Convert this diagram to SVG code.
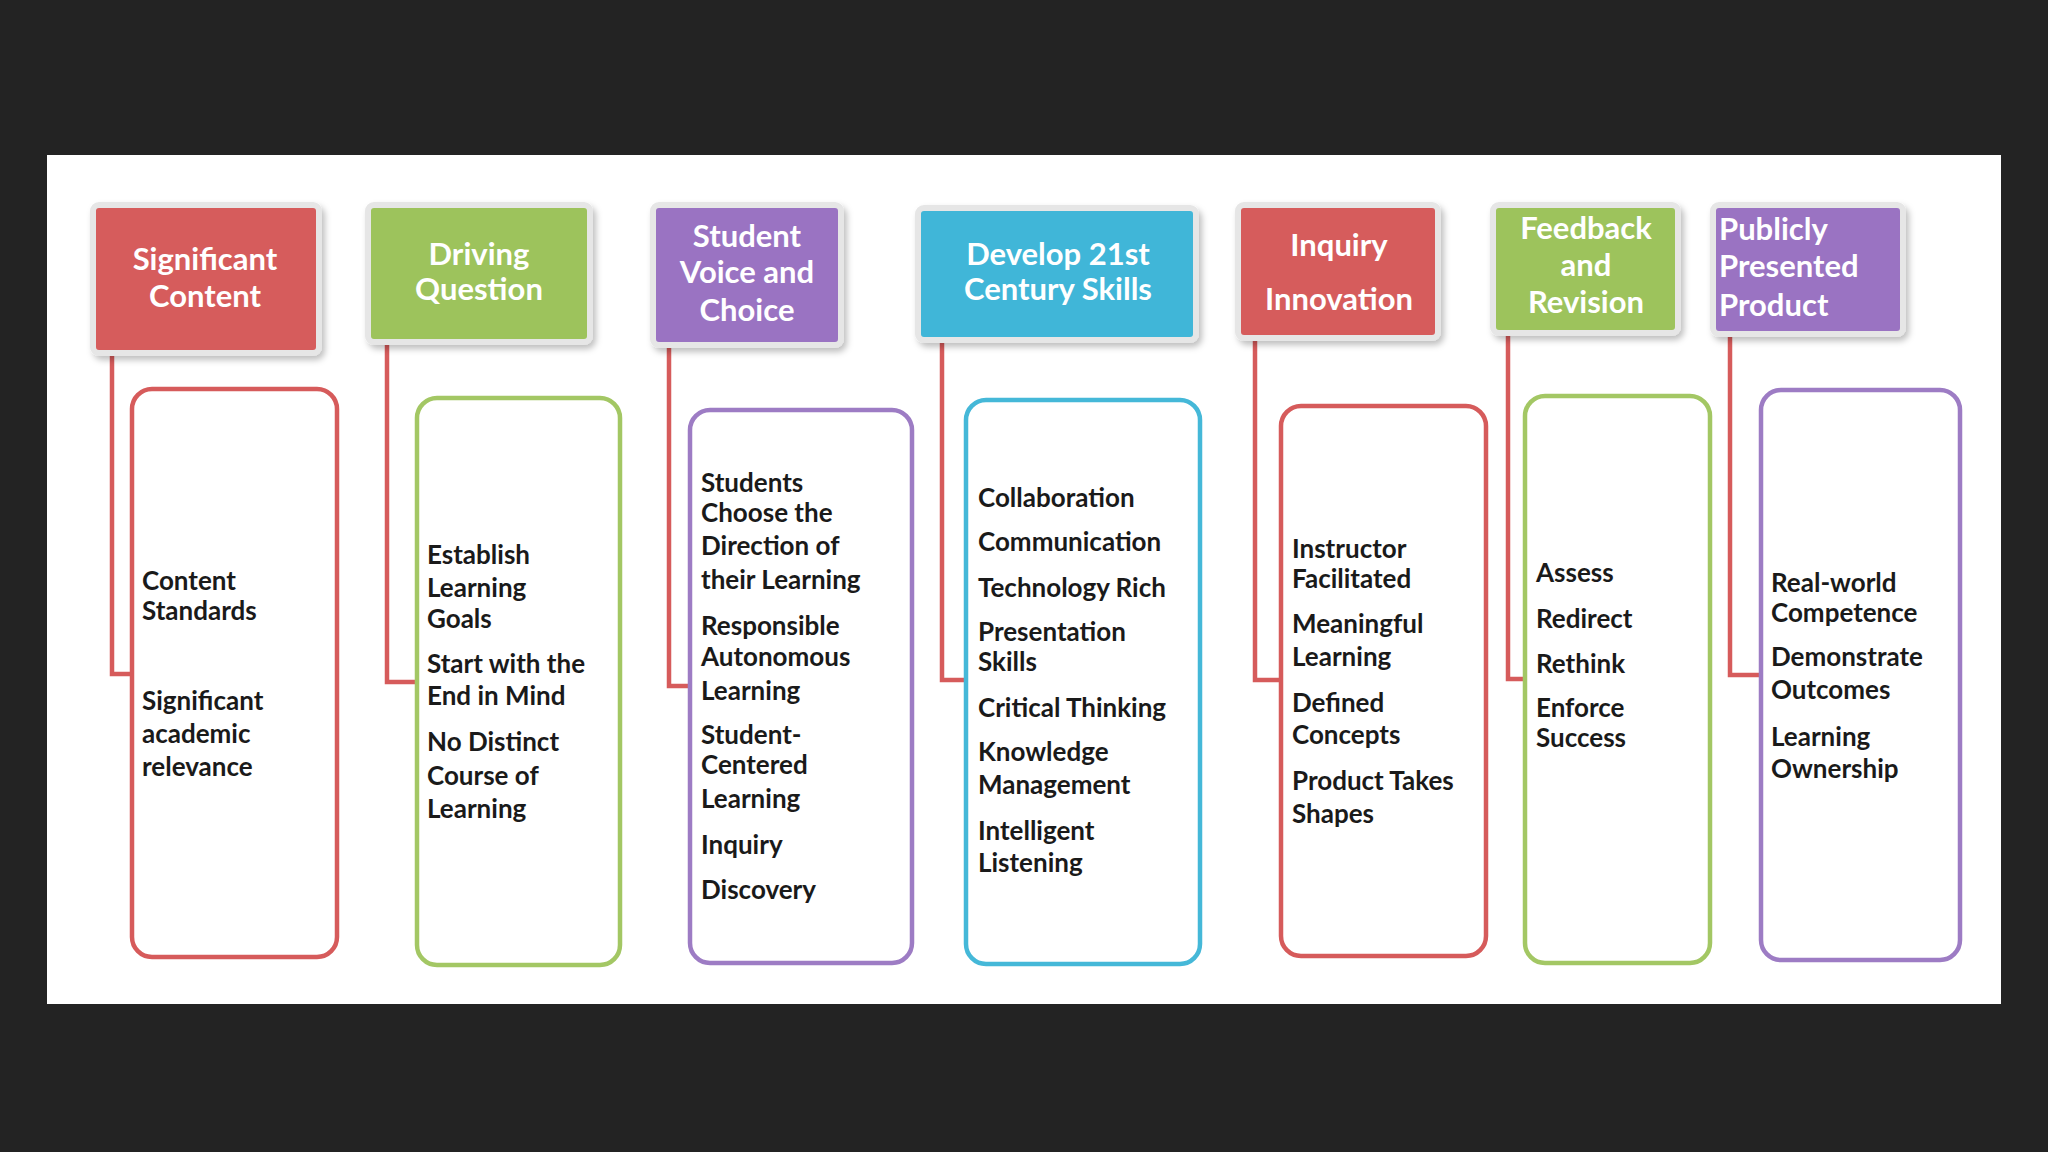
<svg xmlns="http://www.w3.org/2000/svg" width="2048" height="1152" viewBox="0 0 2048 1152">
<style>
.h{stroke:#e6e6e6;stroke-width:6;filter:url(#sh)}
.b{fill:#fff;stroke-width:4.5}
.ht{font-family:Lato,"Open Sans",sans-serif;font-weight:bold;font-size:31px;fill:#fff;text-anchor:middle}
.hl{text-anchor:start}
.t{font-family:Lato,"Open Sans",sans-serif;font-weight:bold;font-size:26px;fill:#1a1a1a}
.c{fill:none;stroke-width:4.5}
.r{stroke:#d65b5b}.g{stroke:#a3c764}.p{stroke:#9d7cc4}.cy{stroke:#45b8d8}
</style>
<defs><filter id="sh" x="-10%" y="-10%" width="130%" height="130%"><feDropShadow dx="3" dy="4" stdDeviation="3" flood-color="#000" flood-opacity="0.25"/></filter></defs>
<rect width="2048" height="1152" fill="#232323"/>
<rect x="47" y="155" width="1954" height="849" fill="#fff"/>
<g id="connectors">
<polyline class="c r" points="112,353 112,674 132,674"/>
<polyline class="c r" points="387,342 387,682 417,682"/>
<polyline class="c r" points="669,345 669,686 690,686"/>
<polyline class="c r" points="942,340 942,680 966,680"/>
<polyline class="c r" points="1255,338 1255,680 1281,680"/>
<polyline class="c r" points="1508,333 1508,679 1525,679"/>
<polyline class="c r" points="1730,334 1730,675 1761,675"/>
</g>
<g id="n1"><rect class="h" x="93" y="205" width="226" height="148" rx="6" fill="#d65b5b"/>
<text class="ht" x="205" y="270">Significant</text><text class="ht" x="205" y="307">Content</text>
<rect class="b r" x="132" y="389" width="205" height="568" rx="20"/>
<text class="t" x="142" y="590">Content</text><text class="t" x="142" y="620">Standards</text><text class="t" x="142" y="710">Significant</text><text class="t" x="142" y="743">academic</text><text class="t" x="142" y="776">relevance</text></g>
<g id="n2"><rect class="h" x="368" y="205" width="222" height="137" rx="6" fill="#9dc35b"/>
<text class="ht" x="479" y="265">Driving</text><text class="ht" x="479" y="300">Question</text>
<rect class="b g" x="417" y="398" width="203" height="567" rx="20"/>
<text class="t" x="427" y="564">Establish</text><text class="t" x="427" y="597">Learning</text><text class="t" x="427" y="628">Goals</text><text class="t" x="427" y="673">Start with the</text><text class="t" x="427" y="705">End in Mind</text><text class="t" x="427" y="751">No Distinct</text><text class="t" x="427" y="785">Course of</text><text class="t" x="427" y="818">Learning</text></g>
<g id="n3"><rect class="h" x="653" y="205" width="188" height="140" rx="6" fill="#9a73c2"/>
<text class="ht" x="747" y="247">Student</text><text class="ht" x="747" y="283">Voice and</text><text class="ht" x="747" y="321">Choice</text>
<rect class="b p" x="690" y="410" width="222" height="553" rx="20"/>
<text class="t" x="701" y="492">Students</text><text class="t" x="701" y="522">Choose the</text><text class="t" x="701" y="555">Direction of</text><text class="t" x="701" y="589">their Learning</text><text class="t" x="701" y="635">Responsible</text><text class="t" x="701" y="666">Autonomous</text><text class="t" x="701" y="700">Learning</text><text class="t" x="701" y="744">Student-</text><text class="t" x="701" y="774">Centered</text><text class="t" x="701" y="808">Learning</text><text class="t" x="701" y="854">Inquiry</text><text class="t" x="701" y="899">Discovery</text></g>
<g id="n4"><rect class="h" x="918" y="208" width="278" height="132" rx="6" fill="#3fb6d8"/>
<text class="ht" x="1058" y="265">Develop 21st</text><text class="ht" x="1058" y="300">Century Skills</text>
<rect class="b cy" x="966" y="400" width="234" height="564" rx="20"/>
<text class="t" x="978" y="507">Collaboration</text><text class="t" x="978" y="551">Communication</text><text class="t" x="978" y="597">Technology Rich</text><text class="t" x="978" y="641">Presentation</text><text class="t" x="978" y="671">Skills</text><text class="t" x="978" y="717">Critical Thinking</text><text class="t" x="978" y="761">Knowledge</text><text class="t" x="978" y="794">Management</text><text class="t" x="978" y="840">Intelligent</text><text class="t" x="978" y="872">Listening</text></g>
<g id="n5"><rect class="h" x="1238" y="205" width="200" height="133" rx="6" fill="#d65b5b"/>
<text class="ht" x="1339" y="256">Inquiry</text><text class="ht" x="1339" y="310">Innovation</text>
<rect class="b r" x="1281" y="406" width="205" height="550" rx="20"/>
<text class="t" x="1292" y="558">Instructor</text><text class="t" x="1292" y="588">Facilitated</text><text class="t" x="1292" y="633">Meaningful</text><text class="t" x="1292" y="666">Learning</text><text class="t" x="1292" y="712">Defined</text><text class="t" x="1292" y="744">Concepts</text><text class="t" x="1292" y="790">Product Takes</text><text class="t" x="1292" y="823">Shapes</text></g>
<g id="n6"><rect class="h" x="1493" y="205" width="185" height="128" rx="6" fill="#9dc35b"/>
<text class="ht" x="1586" y="239">Feedback</text><text class="ht" x="1586" y="276">and</text><text class="ht" x="1586" y="313">Revision</text>
<rect class="b g" x="1525" y="396" width="185" height="567" rx="20"/>
<text class="t" x="1536" y="582">Assess</text><text class="t" x="1536" y="628">Redirect</text><text class="t" x="1536" y="673">Rethink</text><text class="t" x="1536" y="717">Enforce</text><text class="t" x="1536" y="747">Success</text></g>
<g id="n7"><rect class="h" x="1713" y="205" width="190" height="129" rx="6" fill="#9a73c2"/>
<text class="ht hl" x="1719" y="240">Publicly</text><text class="ht hl" x="1719" y="277">Presented</text><text class="ht hl" x="1719" y="316">Product</text>
<rect class="b p" x="1761" y="390" width="199" height="570" rx="20"/>
<text class="t" x="1771" y="592">Real-world</text><text class="t" x="1771" y="622">Competence</text><text class="t" x="1771" y="666">Demonstrate</text><text class="t" x="1771" y="699">Outcomes</text><text class="t" x="1771" y="746">Learning</text><text class="t" x="1771" y="778">Ownership</text></g>
</svg>
